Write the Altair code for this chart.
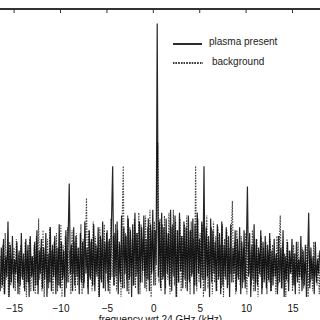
import altair as alt
import pandas as pd

# Frequency grid of the spectra (kHz, relative to 24 GHz)
SOLID_START = -16.5
DOT_START = -16.44
STEP = 0.12

# "plasma present" spectrum values (arbitrary units)
PLASMA = [
    3, 18, 5, 21, 2, 15, 8, 27, 1, 19, 6, 22, 4, 14, 9, 20, 2, 17, 5, 23, 7, 16, 3, 21,
    6, 19, 1, 22, 8, 15, 3, 20, 5, 24, 2, 17, 9, 21, 4, 18, 7, 23, 1, 16, 6, 25, 3, 19,
    8, 22, 2, 18, 5, 26, 4, 20, 7, 17, 1, 24, 6, 21, 40, 9, 19, 3, 25, 5, 22, 8, 18, 2,
    23, 6, 20, 4, 27, 9, 18, 2, 24, 7, 21, 5, 26, 3, 19, 8, 25, 1, 22, 6, 27, 4, 20, 9,
    24, 3, 21, 7, 28, 46, 5, 23, 8, 27, 2, 20, 6, 29, 4, 25, 9, 22, 3, 28, 7, 24, 1, 26,
    5, 30, 8, 23, 2, 27, 6, 25, 10, 29, 4, 21, 7, 28, 3, 26, 9, 31, 5, 24, 12, 95, 8, 27,
    4, 30, 7, 25, 2, 28, 9, 23, 5, 31, 3, 26, 8, 29, 1, 24, 6, 30, 10, 22, 4, 27, 7, 25,
    3, 29, 6, 24, 8, 28, 2, 26, 5, 30, 9, 21, 4, 27, 7, 46, 3, 25, 8, 22, 1, 28, 6, 24,
    9, 20, 3, 26, 7, 23, 2, 27, 5, 19, 8, 25, 4, 22, 1, 26, 6, 18, 9, 24, 3, 21, 7, 25,
    2, 20, 6, 24, 4, 17, 39, 8, 23, 1, 19, 7, 26, 3, 21, 5, 18, 9, 24, 2, 20, 6, 22, 4,
    19, 7, 23, 3, 17, 5, 21, 8, 16, 2, 22, 6, 18, 4, 24, 1, 15, 7, 20, 3, 17, 9, 21, 5,
    16, 2, 20, 6, 14, 8, 22, 3, 17, 5, 19, 1, 13, 30, 4, 18, 7, 15, 2, 20, 6, 14, 9, 17,
]

# "background" spectrum values
BACKGROUND = [
    15, 4, 19, 2, 23, 7, 17, 1, 20, 5, 14, 9, 18, 3, 21, 6, 16, 2, 19, 8, 13, 4, 20, 1,
    17, 6, 21, 3, 15, 8, 19, 2, 22, 5, 28, 7, 18, 3, 24, 1, 16, 9, 21, 4, 25, 6, 17, 2,
    20, 7, 23, 3, 18, 5, 26, 1, 19, 8, 22, 4, 25, 6, 17, 2, 24, 9, 20, 3, 23, 5, 18, 7,
    26, 2, 21, 6, 19, 35, 4, 24, 8, 20, 3, 27, 5, 22, 9, 18, 1, 25, 7, 21, 4, 26, 3, 23,
    6, 20, 2, 28, 8, 22, 5, 26, 3, 24, 9, 19, 1, 27, 46, 4, 23, 7, 29, 2, 25, 8, 21, 5,
    28, 4, 23, 9, 30, 2, 26, 6, 21, 8, 29, 3, 25, 7, 31, 1, 24, 10, 27, 5, 22, 54, 6, 28,
    3, 26, 8, 29, 4, 23, 7, 30, 2, 25, 9, 31, 5, 27, 1, 24, 6, 28, 3, 22, 8, 26, 4, 29,
    7, 24, 2, 27, 9, 21, 5, 46, 3, 28, 6, 23, 8, 26, 1, 22, 7, 29, 4, 20, 9, 25, 2, 27,
    6, 22, 3, 25, 8, 19, 4, 26, 1, 21, 7, 24, 5, 18, 9, 23, 34, 6, 20, 2, 24, 8, 17, 5,
    22, 4, 18, 7, 23, 2, 20, 9, 17, 5, 24, 3, 19, 6, 21, 1, 16, 8, 22, 4, 18, 7, 20, 2,
    17, 6, 21, 3, 19, 8, 15, 2, 22, 5, 18, 29, 4, 20, 7, 16, 1, 21, 6, 17, 9, 14, 3, 19,
    5, 16, 8, 20, 2, 15, 7, 18, 4, 13, 9, 19, 1, 17, 6, 14, 3, 20, 8, 12, 5, 16, 2, 15,
]

TICKS = [-15, -10, -5, 0, 5, 10, 15]
LEGEND_LABELS = ["plasma present", "background"]
X_TITLE = "frequency wrt 24 GHz (kHz)"

FONT = "Liberation Sans"

plasma_df = pd.DataFrame({
    "f": [round(SOLID_START + STEP * i, 3) for i in range(len(PLASMA))],
    "v": PLASMA,
})
bg_df = pd.DataFrame({
    "f": [round(DOT_START + STEP * i, 3) for i in range(len(BACKGROUND))],
    "v": BACKGROUND,
})
tick_df = pd.DataFrame({"t": TICKS})

# plot area is 10 px wider than the window on each side (frame is cropped)
OFF = 10
xscale = alt.Scale(domain=[-17.598, 19.038], nice=False, zero=False)
yscale = alt.Scale(domain=[0, 100], nice=False, zero=False)

xaxis = alt.Axis(
    values=TICKS, format="d", domain=False, ticks=False, grid=False,
    labelFont=FONT, labelFontSize=10, labelColor="#111", labelPadding=3,
    title=X_TITLE, titleFont=FONT, titleFontSize=10, titleFontWeight="normal",
    titleColor="#111", titleBaseline="top", titleY=14,
)

bg_line = alt.Chart(bg_df).mark_line(
    color="#444", strokeWidth=1.1, strokeDash=[1.5, 1.2], clip=True
).encode(
    x=alt.X("f:Q", scale=xscale, axis=xaxis),
    y=alt.Y("v:Q", scale=yscale, axis=None),
)

plasma_line = alt.Chart(plasma_df).mark_line(
    color="#000", strokeWidth=1.2, opacity=0.85, clip=True
).encode(
    x=alt.X("f:Q", scale=xscale, axis=xaxis),
    y=alt.Y("v:Q", scale=yscale, axis=None),
)

top_border = alt.Chart(tick_df).mark_rule(color="#333", strokeWidth=1).encode(
    x=alt.value(0), x2=alt.value(340), y=alt.value(0)
)
top_ticks = alt.Chart(tick_df).mark_rule(color="#333", strokeWidth=1).encode(
    x=alt.X("t:Q", scale=xscale, axis=xaxis), y=alt.value(0), y2=alt.value(4)
)

leg1_line = alt.Chart(tick_df).mark_rule(color="#222", strokeWidth=0.7).encode(
    x=alt.value(173 + OFF), x2=alt.value(202 + OFF), y=alt.value(35)
)
leg2_line = alt.Chart(tick_df).mark_rule(
    color="#333", strokeWidth=0.8, strokeDash=[1.2, 1.5]
).encode(
    x=alt.value(173 + OFF), x2=alt.value(203 + OFF), y=alt.value(54)
)
leg1_text = alt.Chart(pd.DataFrame({"label": [LEGEND_LABELS[0]]})).mark_text(
    font=FONT, fontSize=10, align="left", baseline="alphabetic", color="#222"
).encode(x=alt.value(209 + OFF), y=alt.value(35.5), text="label:N")
leg2_text = alt.Chart(pd.DataFrame({"label": [LEGEND_LABELS[1]]})).mark_text(
    font=FONT, fontSize=10, align="left", baseline="alphabetic", color="#222"
).encode(x=alt.value(212 + OFF), y=alt.value(55.5), text="label:N")

chart = alt.layer(
    bg_line, plasma_line, top_border, top_ticks,
    leg1_line, leg2_line, leg1_text, leg2_text,
).properties(
    width=340, height=291,
    autosize="none",
    background="white",
    padding={"left": -OFF, "top": 9, "right": -OFF, "bottom": 20},
).configure_view(stroke="transparent")

chart.save("out.html", embed_options={"renderer": "svg", "actions": False})
